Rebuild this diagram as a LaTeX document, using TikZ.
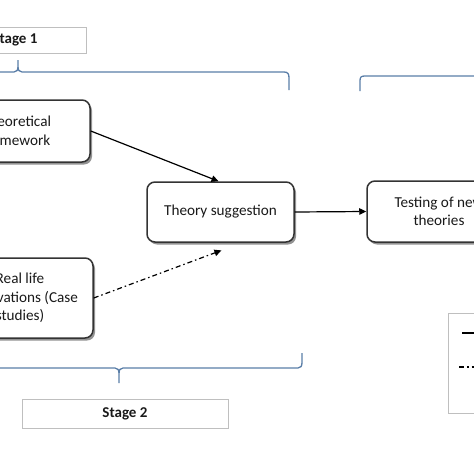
\documentclass[tikz,border=0pt]{standalone}
\usepackage{fontspec}
\setmainfont{Carlito}
\usetikzlibrary{shadows,arrows.meta,calc}
\definecolor{bracecol}{HTML}{5A7EA8}
\definecolor{stagecol}{HTML}{BFBFBF}
\definecolor{boxcol}{HTML}{333333}
\definecolor{textcol}{HTML}{1A1A1A}
\tikzset{
  procbox/.style={draw=boxcol, line width=1.5pt, rounded corners=8pt, fill=white,
    align=center, font=\fontsize{15.2}{18.5}\selectfont, text=textcol, inner sep=0pt,
    drop shadow={shadow xshift=2pt, shadow yshift=-2.5pt, opacity=0.6, fill=black!70}},
  stagebox/.style={draw=stagecol, line width=0.9pt, fill=white, inner sep=0pt,
    font=\bfseries\fontsize{15}{18}\selectfont, text=textcol},
  bracepath/.style={draw=bracecol, line width=1.3pt},
  conn/.style={draw=black, line width=1.2pt, -{Triangle[length=7pt,width=6.5pt]}},
  dashdotconn/.style={conn, dash pattern=on 5pt off 3pt on 1.5pt off 3pt}
}
\begin{document}
\begin{tikzpicture}[x=1pt,y=-1pt]
\useasboundingbox (0,0) rectangle (474,474);
\clip (0,0) rectangle (474,474);
\fill[white] (0,0) rectangle (474,474);
% stage boxes
\node[stagebox, minimum width=206pt, minimum height=26pt] (s1box) at (-17,40) {};
\node[font=\bfseries\fontsize{15}{18}\selectfont, text=textcol, inner sep=0pt] (s1txt) at (15,40) {Stage 1};
\node[stagebox, minimum width=206pt, minimum height=29pt] (s2box) at (125,413.5) {Stage 2};
% braces
\path[bracepath] (-20,72) -- (14,72) .. controls (17,72) and (18,70) .. (18,66) -- (18,60)
  (18,66) .. controls (18,70) and (19,72) .. (22,72) -- (284,72)
  .. controls (288,72) and (289,74) .. (289,78) -- (289,90);
\path[bracepath] (-20,368) -- (115,368) .. controls (118,368) and (119,370) .. (119,374) -- (119,383)
  (119,374) .. controls (119,370) and (120,368) .. (123,368) -- (298,368)
  .. controls (301,368) and (302,366) .. (302,362) -- (302,353);
\path[bracepath] (360,91) -- (360,81) .. controls (360,77) and (361,76) .. (365,76) -- (480,76);
% process boxes
\node[procbox, minimum width=147pt, minimum height=62pt] (tf) at (16.5,131) {Theoretical\\framework};
\node[procbox, minimum width=147pt, minimum height=60pt] (ts) at (220.5,212) {Theory suggestion};
\node[procbox, minimum width=144pt, minimum height=61pt] (tn) at (439,211.5) {Testing of new\\theories};
\node[procbox, minimum width=146pt, minimum height=80pt] (ro) at (20,298) {Real life\\observations (Case\\studies)};
% connectors
\draw[conn] (tf.east) -- ($(ts.north)+(-2,0)$);
\draw[dashdotconn, shorten >=-1pt] (ro.east) -- ($(ts.south)+(0,8)$);
\draw[conn] (ts.east) -- (tn.west);
% legend
\node[draw=stagecol, line width=0.9pt, minimum width=60pt, minimum height=100pt, inner sep=0pt] (legend) at (478,363) {};
\coordinate (l1a) at (462,333);
\coordinate (l1b) at (480,333);
\coordinate (l2a) at (459,367);
\coordinate (l2b) at (480,367);
\draw[black, line width=1.2pt] (l1a) -- (l1b);
\draw[black, line width=1.2pt, dash pattern=on 5pt off 3pt on 1.5pt off 3pt] (l2a) -- (l2b);
\end{tikzpicture}
\end{document}
